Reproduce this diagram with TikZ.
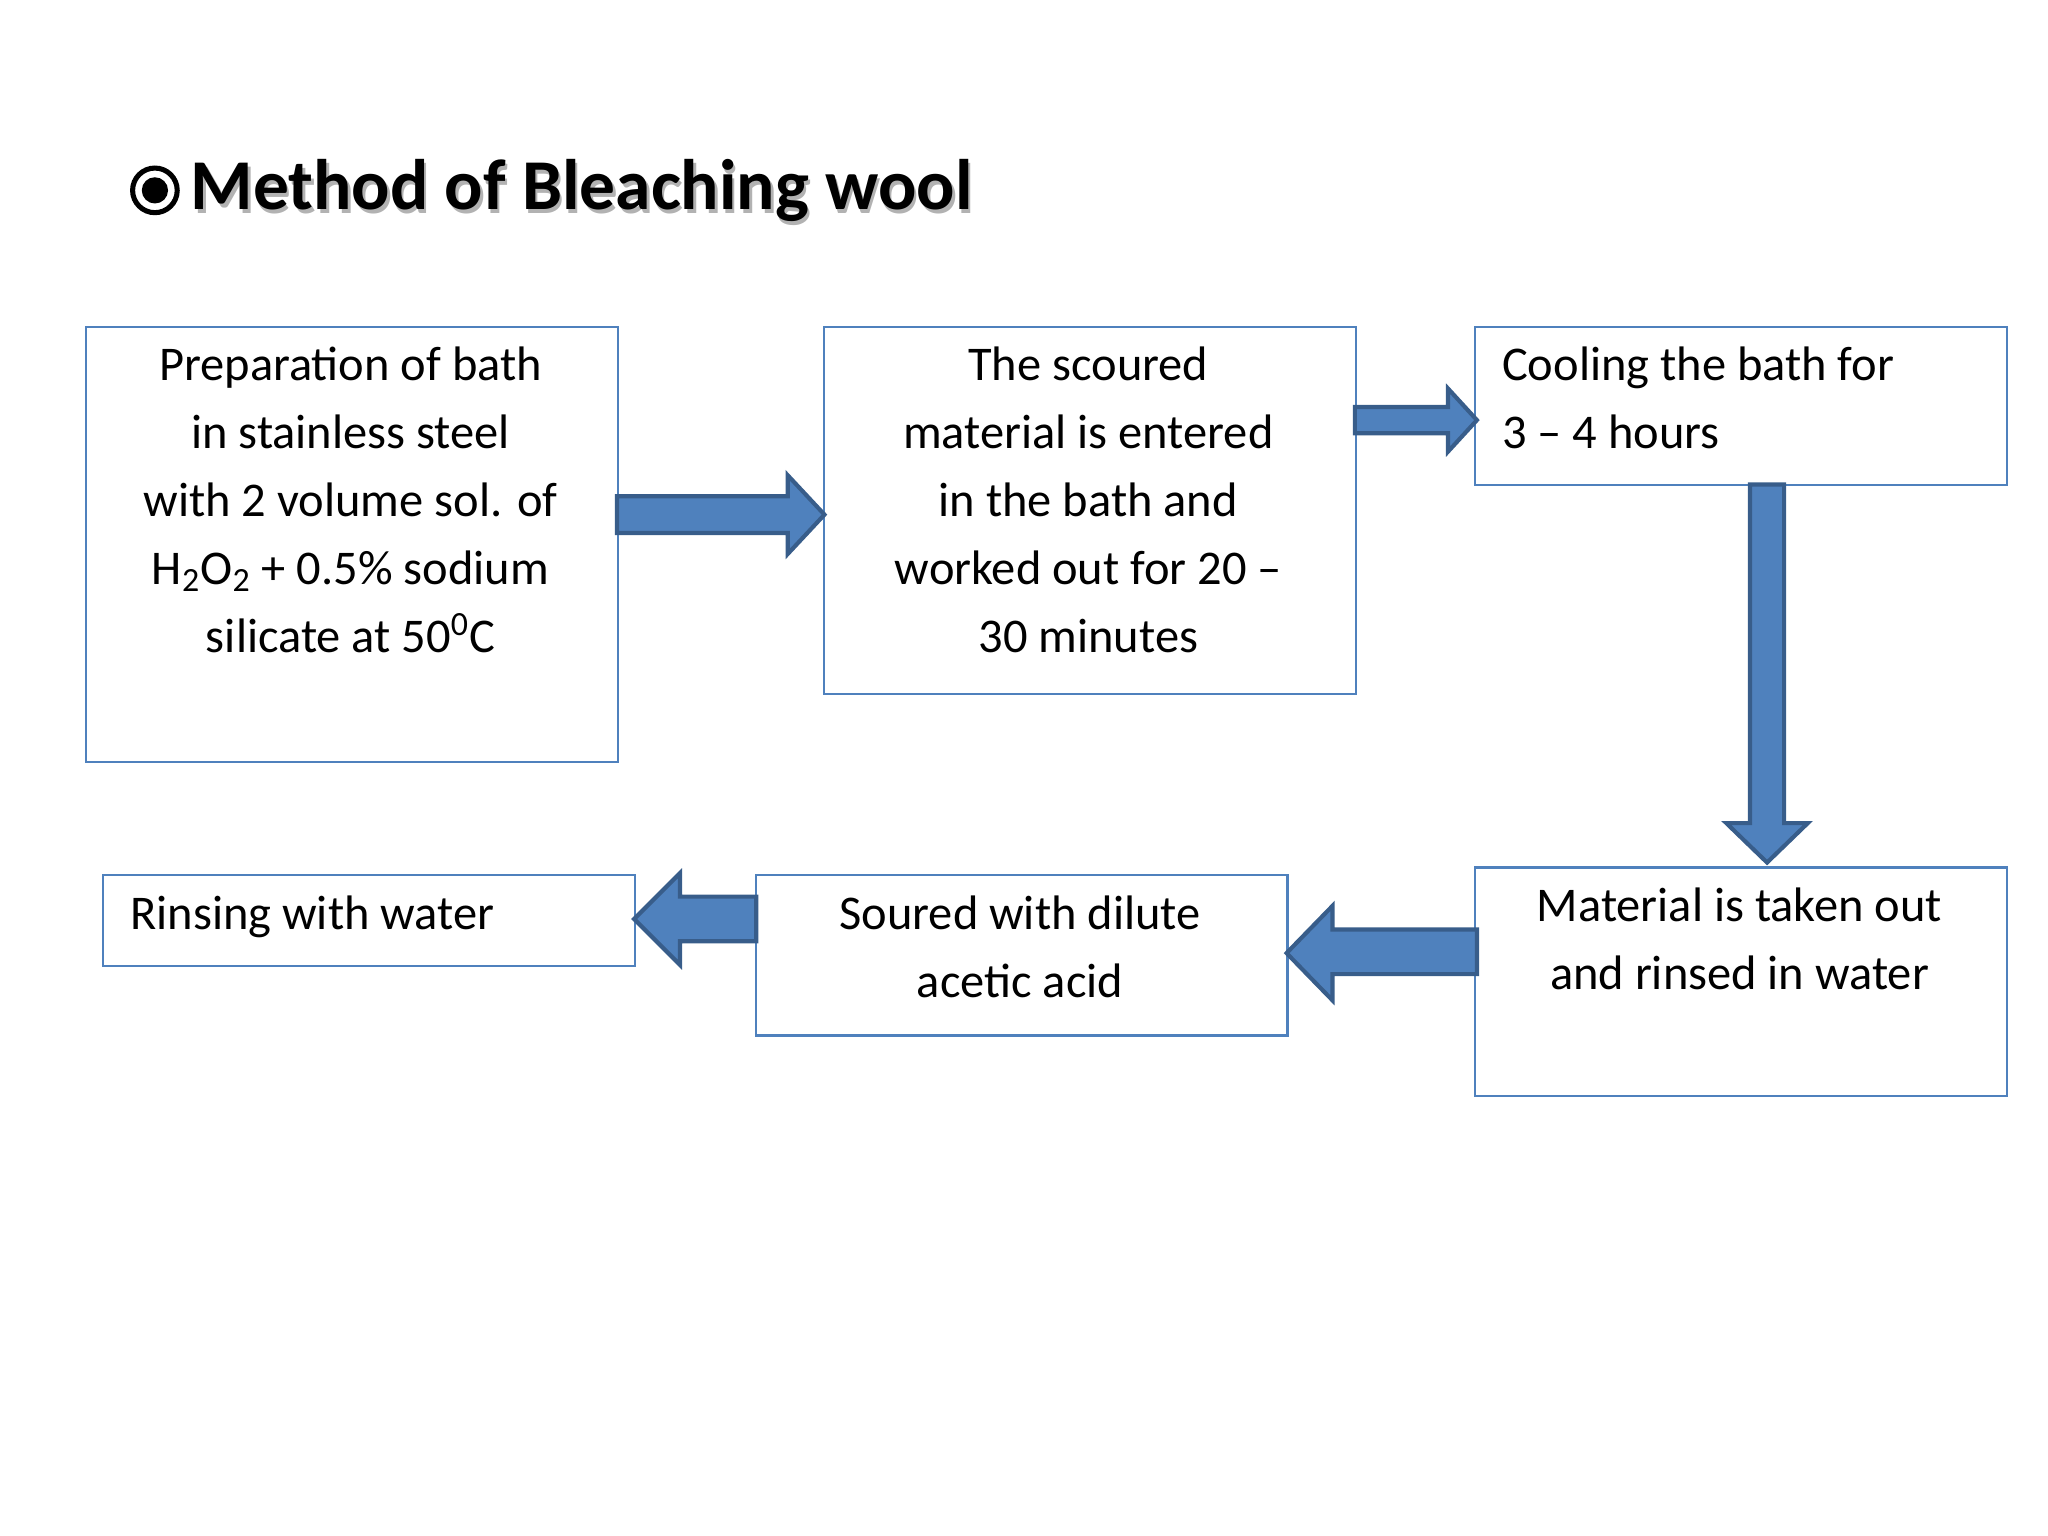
\documentclass[tikz,border=0pt]{standalone}
\usepackage{fontspec}
\setmainfont{Carlito}
\usetikzlibrary{positioning}
\definecolor{boxblue}{HTML}{4F81BD}
\definecolor{arrowline}{HTML}{385D8A}
\begin{document}
\begin{tikzpicture}[x=0.02cm,y=-0.02cm,
  box/.style={draw=boxblue, line width=0.9pt, anchor=north west, inner sep=0pt,
    font=\fontsize{21}{29.5}\selectfont},
  flow/.style={fill=boxblue, draw=arrowline, line width=1.8pt, line join=miter}]
\useasboundingbox (0,0) rectangle (1560,1170);
% title
\draw[line width=2.2pt] (118,145) circle (17);
\fill (118,145) circle (10);
\node[anchor=west, font=\fontsize{31}{36}\selectfont\bfseries, text=gray!60] at (141,148) {Method of Bleaching wool};
\node[anchor=west, font=\fontsize{31}{36}\selectfont\bfseries] (title) at (139,145) {Method of Bleaching wool};
% boxes
\node[box, minimum width=8.1cm, minimum height=6.64cm] (b1) at (65,248) {};
\node[anchor=north, align=center, font=\fontsize{21}{29.5}\selectfont] at (267,258)
  {Preparation of bath\\in stainless steel\\with 2 volume sol. of\\H\textsubscript{2}O\textsubscript{2} + 0.5\% sodium\\silicate at 50\textsuperscript{0}C};
\node[box, minimum width=8.1cm, minimum height=5.6cm] (b2) at (627,248) {};
\node[anchor=north, align=center, font=\fontsize{21}{29.5}\selectfont] at (829,258)
  {The scoured\\material is entered\\in the bath and\\worked out for 20 --\\30 minutes};
\node[box, minimum width=8.1cm, minimum height=2.42cm] (b3) at (1123,248) {};
\node[anchor=north west, align=left, font=\fontsize{21}{29.5}\selectfont] at (1138,258)
  {Cooling the bath for\\3 -- 4 hours};
\node[box, minimum width=8.1cm, minimum height=3.48cm] (b4) at (1123,660) {};
\node[anchor=north, align=center, font=\fontsize{21}{29.5}\selectfont] at (1325,670)
  {Material is taken out\\and rinsed in water};
\node[box, minimum width=8.1cm, minimum height=2.44cm] (b5) at (575,666) {};
\node[anchor=north, align=center, font=\fontsize{21}{29.5}\selectfont] at (777,676)
  {Soured with dilute\\acetic acid};
\node[box, minimum width=8.1cm, minimum height=1.38cm] (b6) at (78,666) {};
\node[anchor=north west, align=left, font=\fontsize{21}{29.5}\selectfont] at (93,676)
  {Rinsing with water};
% arrows
\draw[flow] (470,378) -- (600,378) -- (600,362) -- (628,392) -- (600,422) -- (600,406) -- (470,406) -- cycle;
\draw[flow] (1032,310) -- (1103,310) -- (1103,296) -- (1125,320) -- (1103,344) -- (1103,330) -- (1032,330) -- cycle;
\draw[flow] (1333,369) -- (1359,369) -- (1359,627) -- (1377,627) -- (1346,657) -- (1315,627) -- (1333,627) -- cycle;
\draw[flow] (1125,708) -- (1015,708) -- (1015,690) -- (980,726) -- (1015,762) -- (1015,742) -- (1125,742) -- cycle;
\draw[flow] (576,683) -- (518,683) -- (518,665) -- (483,700) -- (518,735) -- (518,717) -- (576,717) -- cycle;
\end{tikzpicture}
\end{document}
